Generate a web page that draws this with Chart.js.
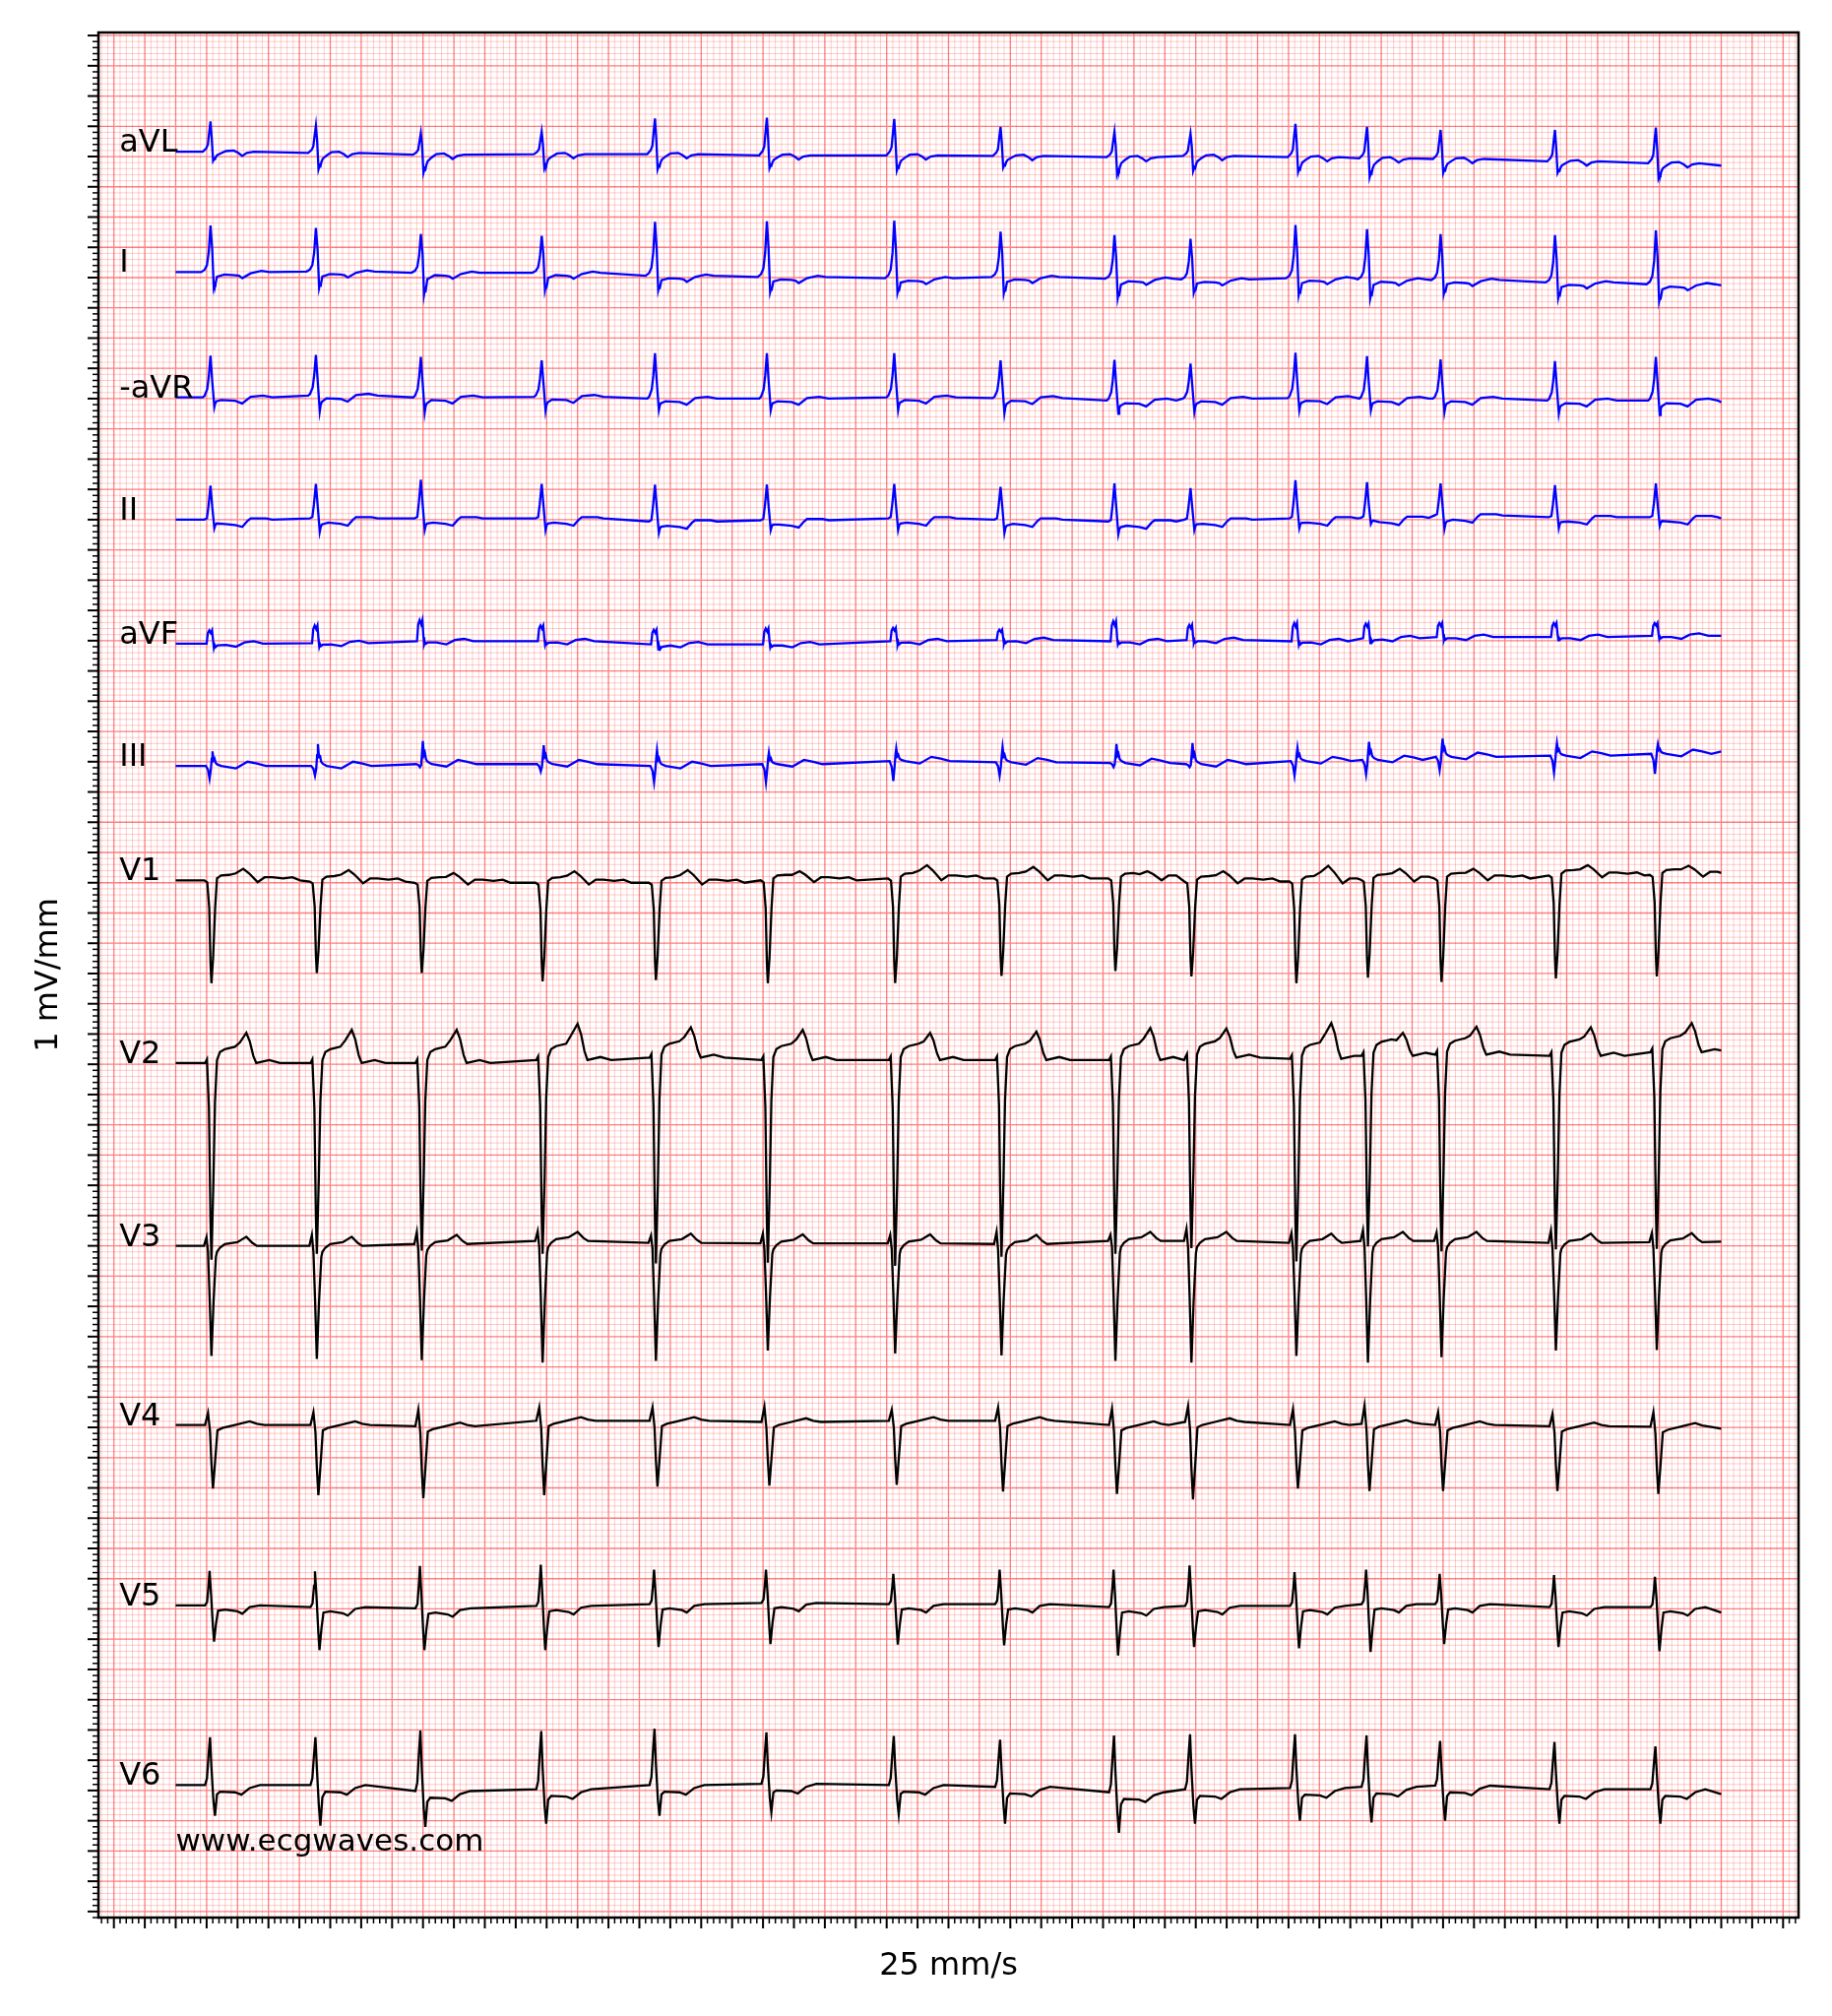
<!DOCTYPE html>
<html>
<head>
<meta charset="utf-8">
<script src="https://cdn.jsdelivr.net/npm/chart.js@4/dist/chart.umd.min.js"></script>
<style>
  html, body { margin: 0; padding: 0; background: #fff; }
  #wrap { width: 1861px; height: 2048px; }
</style>
</head>
<body>
<div id="wrap"><canvas id="ecg" width="1861" height="2048"></canvas></div>
<script>
// R-peak times (s)
const beatTimes = [0.225, 0.907, 1.586, 2.368, 3.101, 3.825, 4.649, 5.337, 6.074, 6.566, 7.245, 7.708, 8.184, 8.924, 9.577];

const leadNames = ['aVL', 'I', '-aVR', 'II', 'aVF', 'III', 'V1', 'V2', 'V3', 'V4', 'V5', 'V6'];

// upward deflection per beat (mV): R wave (T wave for V1, V2)
const upAmp = [
  [0.50, 0.45, 0.36, 0.37, 0.59, 0.62, 0.60, 0.48, 0.42, 0.37, 0.55, 0.52, 0.48, 0.52, 0.59], // aVL
  [0.77, 0.72, 0.64, 0.61, 0.89, 0.92, 0.95, 0.75, 0.72, 0.67, 0.88, 0.83, 0.76, 0.78, 0.89], // I
  [0.69, 0.67, 0.67, 0.60, 0.75, 0.75, 0.73, 0.62, 0.67, 0.58, 0.75, 0.70, 0.65, 0.65, 0.72], // -aVR
  [0.56, 0.57, 0.64, 0.57, 0.61, 0.59, 0.57, 0.54, 0.63, 0.52, 0.63, 0.59, 0.53, 0.53, 0.56], // II
  [0.22, 0.29, 0.35, 0.26, 0.24, 0.26, 0.22, 0.17, 0.33, 0.25, 0.30, 0.24, 0.23, 0.23, 0.21], // aVF
  [0.24, 0.36, 0.38, 0.31, 0.26, 0.19, 0.21, 0.25, 0.31, 0.35, 0.22, 0.30, 0.30, 0.21, 0.16], // III
  [0.19, 0.19, 0.16, 0.19, 0.21, 0.15, 0.22, 0.19, 0.12, 0.17, 0.26, 0.18, 0.16, 0.17, 0.15], // V1
  [0.50, 0.55, 0.55, 0.60, 0.50, 0.50, 0.45, 0.47, 0.53, 0.48, 0.59, 0.38, 0.46, 0.47, 0.48], // V2
  [0.14, 0.18, 0.20, 0.16, 0.12, 0.16, 0.14, 0.20, 0.10, 0.20, 0.16, 0.18, 0.14, 0.20, 0.15], // V3
  [0.20, 0.21, 0.27, 0.22, 0.22, 0.25, 0.18, 0.22, 0.27, 0.26, 0.26, 0.30, 0.21, 0.20, 0.24], // V4
  [0.57, 0.59, 0.70, 0.68, 0.57, 0.55, 0.50, 0.57, 0.62, 0.67, 0.56, 0.57, 0.50, 0.53, 0.50], // V5
  [0.79, 0.79, 1.00, 0.96, 0.93, 0.85, 0.81, 0.78, 0.94, 0.91, 0.89, 0.85, 0.74, 0.78, 0.71]  // V6
];

// downward deflection per beat (mV depth): S / Q wave
const downAmp = [
  [0.15, 0.27, 0.30, 0.23, 0.25, 0.21, 0.25, 0.19, 0.28, 0.25, 0.25, 0.31, 0.23, 0.19, 0.24],
  [0.25, 0.27, 0.36, 0.29, 0.24, 0.25, 0.24, 0.27, 0.32, 0.22, 0.28, 0.31, 0.23, 0.26, 0.28],
  [0.16, 0.26, 0.25, 0.23, 0.19, 0.19, 0.21, 0.25, 0.22, 0.22, 0.20, 0.19, 0.22, 0.22, 0.24],
  [0.14, 0.22, 0.19, 0.19, 0.19, 0.16, 0.19, 0.22, 0.21, 0.17, 0.16, 0.10, 0.22, 0.18, 0.14],
  [0.07, 0.06, 0.05, 0.06, 0.10, 0.05, 0.06, 0.06, 0.05, 0.05, 0.06, 0.08, 0.05, 0.05, 0.05],
  [0.21, 0.16, 0.05, 0.12, 0.27, 0.30, 0.33, 0.22, 0.07, 0.05, 0.24, 0.24, 0.22, 0.28, 0.33],
  [1.70, 1.51, 1.49, 1.63, 1.61, 1.70, 1.73, 1.61, 1.53, 1.57, 1.68, 1.62, 1.71, 1.70, 1.68],
  [3.25, 3.15, 3.10, 3.20, 3.40, 3.35, 3.40, 3.25, 3.20, 3.15, 3.35, 3.15, 3.25, 3.20, 3.25],
  [1.82, 1.87, 1.92, 2.01, 1.95, 1.77, 1.82, 1.84, 1.98, 2.01, 1.87, 2.01, 1.92, 1.78, 1.78],
  [1.05, 1.16, 1.19, 1.23, 1.09, 1.05, 1.06, 1.17, 1.14, 1.28, 1.05, 1.11, 1.09, 1.07, 1.11],
  [0.60, 0.71, 0.69, 0.73, 0.71, 0.68, 0.67, 0.68, 0.80, 0.68, 0.70, 0.79, 0.66, 0.66, 0.73],
  [0.51, 0.67, 0.59, 0.57, 0.51, 0.47, 0.48, 0.61, 0.67, 0.57, 0.54, 0.59, 0.58, 0.57, 0.57]
];

// baseline wander (mV) before each beat, last value = end of strip
const baseline = [
  [0.08, 0.06, 0.03, 0.04, 0.04, 0.02, 0.02, 0.01, -0.01, 0.01, -0.01, -0.03, -0.04, -0.08, -0.11, -0.15],
  [0.09, 0.10, 0.08, 0.08, 0.03, 0.01, -0.01, 0.01, -0.02, -0.03, -0.01, -0.03, -0.04, -0.08, -0.11, -0.13],
  [0.02, 0.05, 0.02, 0.03, 0.00, 0.00, 0.02, 0.01, -0.03, 0.00, 0.01, 0.00, 0.00, -0.03, -0.03, -0.06],
  [0.00, 0.02, 0.02, 0.02, -0.03, -0.01, 0.02, 0.00, -0.03, 0.00, 0.02, 0.03, 0.07, 0.04, 0.04, 0.02],
  [-0.05, -0.04, -0.01, -0.01, -0.06, -0.06, -0.01, 0.01, -0.01, 0.01, -0.01, 0.04, 0.06, 0.06, 0.08, 0.08],
  [-0.07, -0.07, -0.04, -0.04, -0.07, -0.04, 0.01, -0.01, -0.02, -0.04, 0.01, 0.03, 0.08, 0.10, 0.13, 0.17],
  [0.04, 0.02, 0.00, 0.00, 0.00, 0.04, 0.07, 0.07, 0.07, 0.02, 0.02, 0.05, 0.07, 0.12, 0.13, 0.16],
  [0.02, 0.02, 0.02, 0.07, 0.11, 0.07, 0.07, 0.07, 0.07, 0.11, 0.09, 0.14, 0.16, 0.14, 0.20, 0.23],
  [0.00, 0.00, 0.03, 0.08, 0.05, 0.04, 0.04, 0.03, 0.08, 0.08, 0.05, 0.08, 0.08, 0.05, 0.06, 0.07],
  [0.04, 0.04, 0.02, 0.11, 0.11, 0.09, 0.11, 0.11, 0.04, 0.09, 0.04, 0.06, 0.04, 0.02, 0.01, -0.02],
  [0.06, 0.03, 0.01, 0.05, 0.08, 0.10, 0.08, 0.08, 0.03, 0.05, 0.05, 0.08, 0.08, 0.03, 0.03, -0.06],
  [0.09, 0.09, -0.01, 0.02, 0.09, 0.11, 0.09, 0.06, -0.03, 0.02, 0.04, 0.06, 0.08, 0.02, 0.02, -0.06]
];

// beat shapes: [time from R (s), value, kind]  kind 'u' = share of upAmp, 'd' = share of downAmp, 0 = mV
const beatShape = [
  [[-0.05, 0, 0], [-0.028, 0.11, 'u'], [-0.017, 0.23, 'u'], [-0.008, 0.65, 'u'], [0, 1, 'u'], [0.008, 0.45, 'u'], [0.017, 1, 'd'], [0.025, 0.75, 'd'], [0.03, 0.8, 'd'], [0.036, 0.55, 'd'], [0.045, 0.35, 'd'], [0.07, 0.15, 'd'], [0.1, 0.01, 0], [0.15, 0.02, 0], [0.18, -0.02, 0], [0.205, -0.07, 0], [0.235, -0.02, 0], [0.28, 0, 0]],
  [[-0.06, 0, 0], [-0.038, 0.05, 'u'], [-0.023, 0.15, 'u'], [-0.011, 0.44, 'u'], [0, 1, 'u'], [0.011, 0.5, 'u'], [0.021, 1, 'd'], [0.027, 0.75, 'd'], [0.032, 0.8, 'd'], [0.042, 0.3, 'd'], [0.09, -0.04, 0], [0.16, -0.05, 0], [0.185, -0.06, 0], [0.206, -0.1, 0], [0.26, -0.02, 0], [0.33, 0.02, 0], [0.38, 0, 0]],
  [[-0.05, 0, 0], [-0.038, 0.04, 'u'], [-0.021, 0.2, 'u'], [-0.011, 0.5, 'u'], [0, 1, 'u'], [0.011, 0.4, 'u'], [0.025, 1, 'd'], [0.031, 0.6, 'd'], [0.038, 0.4, 'd'], [0.068, -0.045, 0], [0.16, -0.055, 0], [0.205, -0.1, 0], [0.26, 0.01, 0], [0.34, 0.03, 0], [0.4, 0, 0]],
  [[-0.04, 0, 0], [-0.023, 0.04, 'u'], [-0.013, 0.4, 'u'], [0, 1, 'u'], [0.012, 0.35, 'u'], [0.025, 1, 'd'], [0.032, 0.6, 'd'], [0.04, 0.45, 'd'], [0.08, -0.07, 0], [0.16, -0.09, 0], [0.206, -0.12, 0], [0.24, -0.02, 0], [0.26, 0.02, 0], [0.36, 0.02, 0], [0.4, 0, 0]],
  [[-0.025, 0, 0], [-0.017, 0.8, 'u'], [-0.008, 1, 'u'], [0.002, 0.8, 'u'], [0.01, 1, 'u'], [0.017, 0.2, 'u'], [0.022, 1, 'd'], [0.027, 0.3, 'd'], [0.033, 0.8, 'd'], [0.045, 0.4, 'd'], [0.1, -0.02, 0], [0.165, -0.05, 0], [0.22, 0.02, 0], [0.28, 0.04, 0], [0.34, 0, 0]],
  [[-0.03, 0, 0], [-0.016, 0.3, 'd'], [-0.006, 1, 'd'], [0.002, 0.3, 'd'], [0.008, 0.5, 'u'], [0.013, 1, 'u'], [0.02, 0.4, 'u'], [0.026, 0.5, 'u'], [0.034, 0.2, 'u'], [0.045, 0.1, 'u'], [0.07, 0, 0], [0.165, -0.04, 0], [0.24, 0.07, 0], [0.3, 0.04, 0], [0.36, 0, 0]],
  [[-0.04, 0, 0], [-0.021, 0.02, 'd'], [-0.008, 0.27, 'd'], [0, 0.8, 'd'], [0.006, 1, 'd'], [0.017, 0.75, 'd'], [0.03, 0.27, 'd'], [0.042, 0.03, 0], [0.068, 0.08, 0], [0.12, 0.09, 0], [0.163, 0.6, 'u'], [0.212, 1, 'u'], [0.25, 0.6, 'u'], [0.305, -0.03, 0], [0.35, 0.05, 0], [0.4, 0.05, 0], [0.47, 0.03, 0], [0.53, 0.05, 0], [0.58, 0, 0]],
  [[-0.035, 0, 0], [-0.023, 0.06, 0], [-0.01, 0.23, 'd'], [0, 0.8, 'd'], [0.006, 1, 'd'], [0.019, 0.6, 'd'], [0.029, 0.2, 'd'], [0.042, 0.05, 0], [0.061, 0.18, 0], [0.093, 0.23, 0], [0.158, 0.27, 0], [0.19, 0.68, 'u'], [0.232, 1, 'u'], [0.254, 0.72, 'u'], [0.277, 0.24, 'u'], [0.296, 0, 0], [0.38, 0.05, 0], [0.45, 0, 0]],
  [[-0.042, 0, 0], [-0.026, 1, 'u'], [-0.016, -0.1, 0], [-0.006, 0.45, 'd'], [0.006, 1, 'd'], [0.02, 0.5, 'd'], [0.035, 0.1, 'd'], [0.042, -0.1, 0], [0.061, -0.03, 0], [0.093, 0.03, 0], [0.174, 0.06, 0], [0.232, 0.15, 0], [0.27, 0.05, 0], [0.3, 0, 0]],
  [[-0.035, 0, 0], [-0.016, 1, 'u'], [-0.003, 0.1, 'd'], [0.006, 0.6, 'd'], [0.016, 1, 'd'], [0.029, 0.6, 'd'], [0.045, -0.09, 0], [0.077, -0.05, 0], [0.158, 0, 0], [0.254, 0.06, 0], [0.3, 0.02, 0], [0.35, 0, 0]],
  [[-0.035, 0, 0], [-0.022, 0.1, 'u'], [-0.012, 0.6, 'u'], [-0.006, 1, 'u'], [0.004, 0.3, 'u'], [0.016, 0.6, 'd'], [0.023, 1, 'd'], [0.036, 0.5, 'd'], [0.049, -0.09, 0], [0.094, -0.07, 0], [0.174, -0.1, 0], [0.206, -0.14, 0], [0.254, -0.03, 0], [0.32, 0, 0]],
  [[-0.035, 0, 0], [-0.023, 0.14, 'u'], [-0.013, 0.6, 'u'], [-0.003, 1, 'u'], [0.006, 0.37, 'u'], [0.019, 0.5, 'd'], [0.029, 1, 'd'], [0.042, 0.3, 'd'], [0.061, -0.11, 0], [0.158, -0.12, 0], [0.2, -0.16, 0], [0.254, -0.05, 0], [0.32, 0, 0]]
];

// layout: row offset of each lead on the paper (mV), strip length
const rowOffset = [-2, -4, -6, -8, -10, -12, -14, -17, -20, -23, -26, -29];
const stripEnd = 10;

function leadPoints(li) {
  const off = rowOffset[li], base = baseline[li], shape = beatShape[li];
  const n = beatTimes.length;
  const pts = [{ x: 0, y: off + base[0] }];
  for (let i = 0; i < n; i++) {
    const limit = i + 1 < n ? beatTimes[i + 1] + shape[0][0] : stripEnd;
    for (const [dt, v, kind] of shape) {
      const t = beatTimes[i] + dt;
      if (t <= pts[pts.length - 1].x || t >= limit) continue;
      let amp = v;
      if (kind === 'u') amp = v * upAmp[li][i];
      else if (kind === 'd') amp = -v * downAmp[li][i];
      pts.push({ x: t, y: off + base[i] + amp });
    }
  }
  pts.push({ x: stripEnd, y: off + base[n] });
  return pts;
}

const datasets = leadNames.map((name, li) => ({
  label: name,
  data: leadPoints(li),
  borderColor: li < 6 ? '#0000ff' : '#000000',
  borderWidth: 2.3,
  pointRadius: 0,
  tension: 0,
  fill: false
}));

const FONT = '32px "DejaVu Sans", sans-serif';

function gridValues(min, max, step) {
  const out = [];
  const k0 = Math.ceil(min / step - 1e-6), k1 = Math.floor(max / step + 1e-6);
  for (let k = k0; k <= k1; k++) out.push({ v: k * step, major: k % 5 === 0 });
  return out;
}

const ecgPaper = {
  id: 'ecgPaper',
  beforeDraw(chart) {
    const { ctx, chartArea: a, scales: { x, y } } = chart;
    ctx.save();
    ctx.fillStyle = '#ffffff';
    ctx.fillRect(0, 0, chart.width, chart.height);
    ctx.beginPath();
    ctx.rect(a.left, a.top, a.right - a.left, a.bottom - a.top);
    ctx.clip();
    const xs = gridValues(x.min, x.max, 0.04);
    const ys = gridValues(y.min, y.max, 0.1);
    for (const pass of [false, true]) {
      ctx.strokeStyle = pass ? 'rgba(255,0,0,0.5)' : 'rgba(255,0,0,0.2)';
      ctx.lineWidth = pass ? 1.3 : 1;
      ctx.beginPath();
      xs.filter(g => g.major === pass).forEach(g => {
        const px = x.getPixelForValue(g.v);
        ctx.moveTo(px, a.top); ctx.lineTo(px, a.bottom);
      });
      ys.filter(g => g.major === pass).forEach(g => {
        const py = y.getPixelForValue(g.v);
        ctx.moveTo(a.left, py); ctx.lineTo(a.right, py);
      });
      ctx.stroke();
    }
    ctx.restore();
  },
  afterDatasetsDraw(chart) {
    const { ctx, chartArea: a, scales: { x, y } } = chart;
    ctx.save();
    // ticks
    ctx.strokeStyle = '#000';
    gridValues(x.min, x.max, 0.04).forEach(g => {
      const px = x.getPixelForValue(g.v);
      ctx.lineWidth = g.major ? 2 : 1.5;
      ctx.beginPath();
      ctx.moveTo(px, a.bottom); ctx.lineTo(px, a.bottom + (g.major ? 11 : 6));
      ctx.stroke();
    });
    gridValues(y.min, y.max, 0.1).forEach(g => {
      const py = y.getPixelForValue(g.v);
      ctx.lineWidth = g.major ? 2 : 1.5;
      ctx.beginPath();
      ctx.moveTo(a.left, py); ctx.lineTo(a.left - (g.major ? 11 : 6), py);
      ctx.stroke();
    });
    // frame
    ctx.lineWidth = 2.5;
    ctx.strokeRect(a.left, a.top, a.right - a.left, a.bottom - a.top);

    // lead names
    ctx.fillStyle = '#000';
    ctx.font = FONT;
    ctx.textBaseline = 'alphabetic';
    ctx.textAlign = 'left';
    leadNames.forEach((name, li) => {
      ctx.fillText(name, x.getPixelForValue(-0.365), y.getPixelForValue(rowOffset[li] + baseline[li][0]));
    });
    ctx.font = '31px "DejaVu Sans", sans-serif';
    ctx.fillText('www.ecgwaves.com', x.getPixelForValue(0), y.getPixelForValue(-30.0));

    // axis titles
    ctx.font = FONT;
    ctx.textAlign = 'center';
    ctx.fillText('25 mm/s', (a.left + a.right) / 2, 2006);
    ctx.translate(58, (a.top + a.bottom) / 2);
    ctx.rotate(-Math.PI / 2);
    ctx.fillText('1 mV/mm', 0, 0);
    ctx.restore();
  }
};

new Chart(document.getElementById('ecg'), {
  type: 'line',
  data: { datasets },
  options: {
    responsive: false,
    devicePixelRatio: 1,
    animation: false,
    parsing: false,
    normalized: true,
    layout: { padding: { left: 100, top: 33, right: 34, bottom: 100 } },
    plugins: { legend: { display: false }, tooltip: { enabled: false } },
    scales: {
      x: { type: 'linear', min: -0.5, max: 10.5, display: false },
      y: { type: 'linear', min: -31.1, max: 0.05, display: false }
    }
  },
  plugins: [ecgPaper]
});
</script>
</body>
</html>
